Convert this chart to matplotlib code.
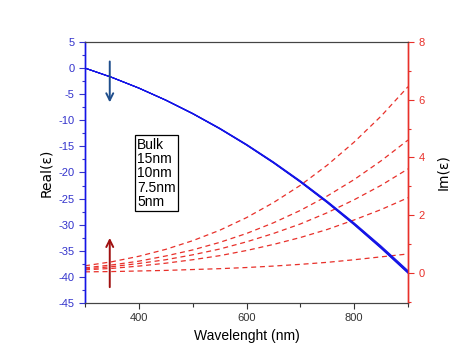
import matplotlib
matplotlib.use('Agg')
import matplotlib.pyplot as plt
from matplotlib.ticker import MultipleLocator

plt.rcParams['font.family'] = ['Liberation Sans', 'DejaVu Sans']
plt.rcParams['axes.unicode_minus'] = False

# wavelength grid (nm)
wavelength = [300, 350, 400, 450, 500, 550, 600, 650, 700, 750, 800, 850, 900]

# real part of permittivity
real_bulk = [0.0, -1.79, -3.84, -6.16, -8.75, -11.62, -14.76, -18.17, -21.85, -25.81, -30.04, -34.55, -39.3]
real_15nm = [0.0, -1.79, -3.84, -6.15, -8.74, -11.60, -14.73, -18.13, -21.80, -25.74, -29.96, -34.45, -39.2]
real_10nm = [0.0, -1.78, -3.83, -6.14, -8.72, -11.57, -14.70, -18.09, -21.75, -25.67, -29.87, -34.34, -39.1]
real_7_5nm = [0.0, -1.78, -3.82, -6.13, -8.70, -11.54, -14.66, -18.04, -21.69, -25.60, -29.78, -34.23, -38.95]
real_5nm = [0.0, -1.77, -3.80, -6.10, -8.66, -11.49, -14.60, -17.97, -21.60, -25.50, -29.66, -34.08, -38.8]

# imaginary part of permittivity
imag_5nm = [0.24, 0.38, 0.57, 0.81, 1.11, 1.47, 1.91, 2.43, 3.03, 3.73, 4.53, 5.43, 6.45]
imag_7_5nm = [0.17, 0.27, 0.40, 0.58, 0.79, 1.05, 1.36, 1.73, 2.16, 2.66, 3.23, 3.88, 4.60]
imag_10nm = [0.13, 0.21, 0.32, 0.45, 0.62, 0.82, 1.07, 1.36, 1.69, 2.08, 2.53, 3.03, 3.60]
imag_15nm = [0.10, 0.15, 0.23, 0.33, 0.45, 0.59, 0.77, 0.98, 1.22, 1.50, 1.83, 2.19, 2.60]
imag_bulk = [0.03, 0.04, 0.06, 0.08, 0.11, 0.14, 0.18, 0.23, 0.29, 0.36, 0.45, 0.55, 0.65]

legend_labels = ['Bulk', '15nm', '10nm', '7.5nm', '5nm']

blue = '#1414e6'
red = '#e8302a'

fig = plt.figure(figsize=(4.74, 3.63), dpi=100)
ax = fig.add_axes([0.1793, 0.1653, 0.6815, 0.719])
ax2 = ax.twinx()

for series in [imag_5nm, imag_7_5nm, imag_10nm, imag_15nm, imag_bulk]:
    ax2.plot(wavelength, series, color=red, linestyle=(0, (4, 3)), linewidth=0.9)

for series in [real_bulk, real_15nm, real_10nm, real_7_5nm, real_5nm]:
    ax.plot(wavelength, series, color=blue, linewidth=0.75)

# keep the blue curves above the red ones
ax.set_zorder(ax2.get_zorder() + 1)
ax.patch.set_visible(False)

ax.set_xlim(300, 900)
ax.set_ylim(-45, 5)
ax2.set_ylim(-1.05, 8)

ax.xaxis.set_major_locator(MultipleLocator(200))
ax.xaxis.set_minor_locator(MultipleLocator(100))
ax.yaxis.set_major_locator(MultipleLocator(5))
ax.yaxis.set_minor_locator(MultipleLocator(2.5))
ax2.yaxis.set_major_locator(MultipleLocator(2))
ax2.yaxis.set_minor_locator(MultipleLocator(1))

ax.set_xticks([400, 600, 800])

ax.tick_params(axis='x', labelsize=8, length=4, width=0.8, colors='#333333')
ax.tick_params(axis='x', which='minor', length=3, width=0.8, colors='#333333')
ax.tick_params(axis='y', labelsize=8, length=4, width=0.8, colors='#3333cc')
ax.tick_params(axis='y', which='minor', length=2.5, width=0.8, color='#3333cc')
ax2.tick_params(axis='y', labelsize=8, length=4, width=0.8, colors=red)
ax2.tick_params(axis='y', which='minor', length=2.5, width=0.8, color=red)

for a in (ax, ax2):
    a.spines['left'].set_color(blue)
    a.spines['right'].set_color(red)
    a.spines['top'].set_color('#444444')
    a.spines['bottom'].set_color('#444444')
    a.spines['left'].set_linewidth(1.0)
    a.spines['right'].set_linewidth(1.0)

ax.set_xlabel('Wavelenght (nm)', fontsize=10, labelpad=4)
ax.set_ylabel('Real(ε)', fontsize=10, labelpad=4, family=['DejaVu Sans'])
ax2.set_ylabel('Im(ε)', fontsize=10, labelpad=8, family=['DejaVu Sans'])

# arrows marking the size trend
ax.annotate('', xy=(346, -7.1), xytext=(346, 1.8),
            arrowprops=dict(arrowstyle='->,head_length=0.5,head_width=0.25', color='#1f4e8c', lw=1.4))
ax.annotate('', xy=(346, -32.0), xytext=(346, -42.5),
            arrowprops=dict(arrowstyle='->,head_length=0.5,head_width=0.25', color='#a01010', lw=1.4))

ax.text(397, -13.3, '\n'.join(legend_labels), fontsize=10, va='top', ha='left', linespacing=1.04,
        bbox=dict(boxstyle='square,pad=0.15', facecolor='white', edgecolor='black', linewidth=0.9))

fig.savefig('out.png', dpi=100)
